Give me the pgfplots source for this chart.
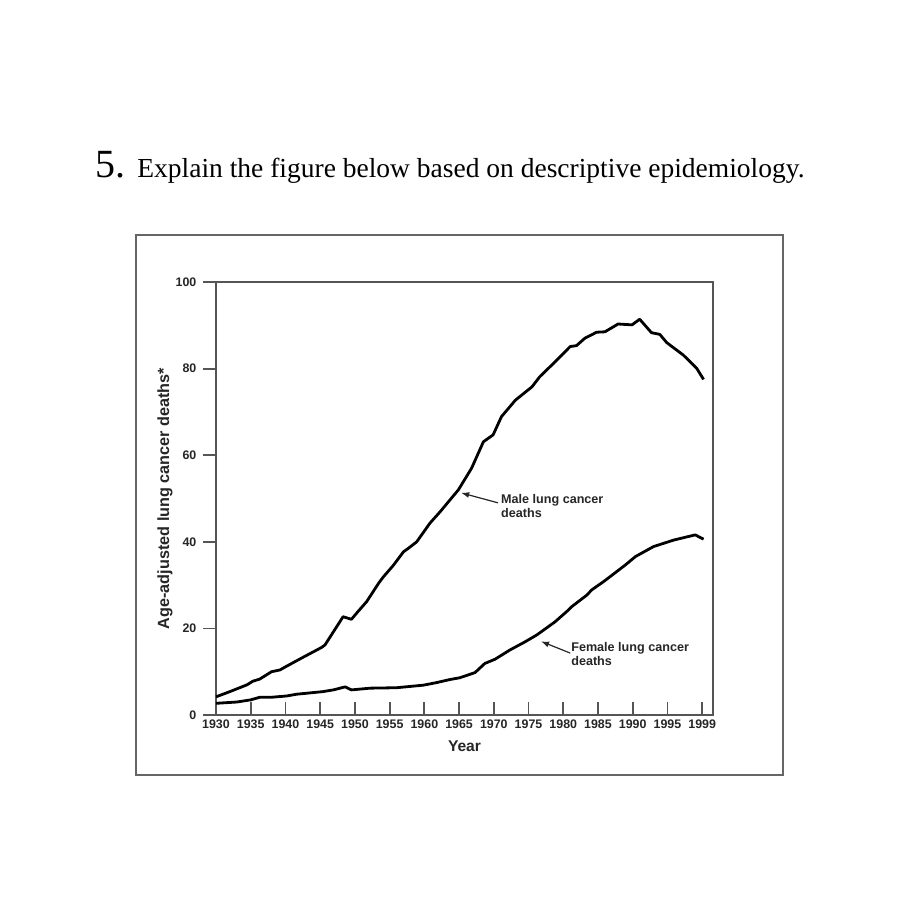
\documentclass[border=0pt]{standalone}
\usepackage{fontspec}
\setmainfont{Liberation Serif}
\newfontfamily\arial{Liberation Sans}
\usepackage{pgfplots}
\pgfplotsset{compat=1.18}
\usetikzlibrary{arrows.meta}
\definecolor{axgray}{HTML}{555555}
\definecolor{txt}{HTML}{262626}
\begin{document}
\begin{tikzpicture}
\fill[white] (0,0) rectangle (459pt,-462pt);
\node[anchor=base west, inner sep=0, font=\fontsize{20}{24}\selectfont] at (47.5pt,-89pt) {5.};
\node[anchor=base west, inner sep=0, font=\fontsize{13.75}{16}\selectfont] at (68.5pt,-89pt) {Explain the figure below based on descriptive epidemiology.};
\draw[gray!80!black, line width=1pt] (68pt,-117.5pt) rectangle (391.5pt,-387.5pt);
\begin{axis}[scale only axis, width=248.5pt, height=216.5pt, at={(108pt,-357.5pt)}, anchor=south west,
 xmin=1930, xmax=2001.56, ymin=0, ymax=100,
 xtick={1930,1935,1940,1945,1950,1955,1960,1965,1970,1975,1980,1985,1990,1995,2000},
 xticklabels={1930,1935,1940,1945,1950,1955,1960,1965,1970,1975,1980,1985,1990,1995,1999},
 ytick={0,20,40,60,80,100},
 axis line style={axgray, line width=0.9pt},
 every tick/.style={axgray, line width=0.9pt},
 xtick align=inside, ytick align=outside,
 xtick pos=bottom, ytick pos=left,
 major tick length=6.3pt,
 /pgf/number format/assume math mode=true,
 tick label style={font=\arial\bfseries\fontsize{6.2}{7}\selectfont, text=txt},
 xticklabel style={yshift=1pt},
 xlabel={Year}, ylabel={Age-adjusted lung cancer deaths*},
 every axis x label/.style={at={(axis description cs:0.5,-0.073)}, anchor=center, font=\arial\bfseries\fontsize{7.8}{8}\selectfont, text=txt},
 every axis y label/.style={at={(axis description cs:-0.1026,0.5)}, anchor=center, rotate=90, font=\arial\bfseries\fontsize{8.1}{9}\selectfont, text=txt},
 clip=false,
]
\addplot[black, line width=1.4pt, line join=round] coordinates {
(1930,4.2) (1932,5.4) (1934.5,7.0) (1935,7.5) (1935.3,7.8) (1936.3,8.3) (1937,9.0) (1938,10.0) (1939.2,10.4) (1940.2,11.3)
(1942.5,13.3) (1945.2,15.6) (1945.7,16.2) (1946.9,19.2) (1948.3,22.7) (1949.5,22.1) (1950.5,24.0) (1951.7,26.2) (1953.4,30.4) (1954.1,31.9)
(1955.5,34.5) (1957,37.7) (1957.7,38.5) (1958.9,40.0) (1960.8,44.3) (1962.3,47.0) (1964.9,52.0) (1966.8,57.0) (1968.5,63.1) (1969.9,64.7)
(1971.1,68.9) (1973.1,72.7) (1975.5,75.8) (1976.6,78.1) (1979.1,82.0) (1981.0,85.1) (1981.9,85.3) (1983.1,87.0) (1984.8,88.4) (1986.0,88.5)
(1987.9,90.3) (1989.9,90.1) (1991.0,91.4) (1992.7,88.3) (1993.9,87.9) (1994.9,86.0) (1997.3,83.1) (1999.2,80.1) (2000.2,77.5)
};
\addplot[black, line width=1.4pt, line join=round] coordinates {
(1930,2.7) (1933,3.0) (1935,3.5) (1936.3,4.1) (1938,4.1) (1940.2,4.4) (1941.6,4.8) (1945.4,5.4) (1946.9,5.8) (1948.6,6.5)
(1949.5,5.8) (1952.2,6.2) (1956,6.3) (1959.9,6.9) (1961.8,7.5) (1963.7,8.2) (1965.1,8.6) (1967.3,9.8) (1968.7,11.9) (1970.2,12.9)
(1972.3,15.0) (1974.5,16.9) (1976.2,18.5) (1978.8,21.5) (1980.5,23.9) (1981.2,25.0) (1983.4,27.7) (1984.1,28.9) (1985.8,30.8) (1988.9,34.6)
(1990.4,36.6) (1993,38.9) (1995.9,40.4) (1999,41.6) (2000.2,40.6)
};
\draw[txt, line width=0.6pt, -{Latex[length=4pt,width=3pt]}] (axis cs:1970.6,49.0) -- (axis cs:1965.3,51.3);
\draw[txt, line width=0.6pt, -{Latex[length=4pt,width=3pt]}] (axis cs:1981.0,14.3) -- (axis cs:1976.8,17.0);
\node[anchor=north west, inner sep=0, align=left, text=txt, font=\arial\bfseries\fontsize{6.3}{7}\selectfont] at (axis cs:1971.0,51.0) {Male lung cancer\\deaths};
\node[anchor=north west, inner sep=0, align=left, text=txt, font=\arial\bfseries\fontsize{6.3}{7}\selectfont] at (axis cs:1981.1,16.9) {Female lung cancer\\deaths};
\end{axis}
\end{tikzpicture}
\end{document}
